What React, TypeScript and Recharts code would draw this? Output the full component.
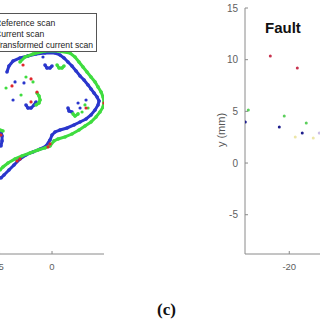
import React from 'react';
import { ScatterChart, Scatter, XAxis, YAxis, Legend } from 'recharts';

// ---------- Left panel: scan matching (m) ----------
const currentScanContour = [
  [-4.29, 4.07], [-4.1, 4.63], [-3.71, 5.09], [-3.05, 5.37], [-2.29, 5.56], [-1.52, 5.74],
  [-0.67, 5.83], [0.29, 5.83], [0.76, 5.65], [1.14, 5.37], [1.52, 5.0], [1.9, 4.63],
  [2.29, 4.17], [2.67, 3.7], [3.05, 3.33], [3.43, 2.87], [3.71, 2.5], [4.0, 2.13],
  [4.29, 1.76], [4.48, 1.39], [4.38, 1.02], [4.1, 0.56], [3.71, 0.09], [3.24, -0.28],
  [2.67, -0.56], [2.1, -0.83], [1.43, -1.11], [0.76, -1.3], [0.29, -1.48], [0.0, -1.76],
  [-0.19, -2.22], [-0.57, -2.78], [-1.14, -3.06], [-1.81, -3.33], [-2.48, -3.61],
  [-3.05, -3.98], [-3.62, -4.54], [-4.1, -5.0], [-4.57, -5.46], [-4.86, -5.74],
];
const transformedScanContour = [
  [-3.05, 5.0], [-2.57, 5.46], [-1.81, 5.74], [-0.67, 6.02], [0.57, 6.02], [1.71, 5.83],
  [2.19, 5.46], [2.57, 5.0], [2.95, 4.54], [3.33, 4.07], [3.71, 3.61], [4.1, 3.15],
  [4.38, 2.69], [4.67, 2.22], [4.86, 1.76], [4.95, 1.3], [4.86, 0.83], [4.57, 0.37],
  [4.19, -0.09], [3.71, -0.56], [3.14, -0.93], [2.57, -1.3], [1.9, -1.67], [1.24, -1.94],
  [0.57, -2.13], [0.19, -2.31], [-0.19, -2.78], [-0.67, -2.96], [-1.33, -3.15],
  [-2.1, -3.43], [-2.86, -3.7], [-3.52, -3.98], [-4.19, -4.35], [-4.67, -4.72], [-4.95, -5.0],
];
const currentScanHook = [[-2.48, 1.02], [-2.29, 0.74], [-2.0, 0.74], [-1.71, 1.02], [-1.52, 1.3]];
const transformedScanHook = [[-1.43, 2.13], [-1.24, 1.85], [-1.14, 1.48], [-1.24, 1.2], [-1.52, 1.02]];
const currentScanArc = [[-0.67, 4.72], [-0.48, 4.44], [-0.19, 4.44], [0.0, 4.63]];
const transformedScanArc = [[0.48, 4.72], [0.67, 4.44], [0.95, 4.44], [1.14, 4.63]];
const currentScanRightHook = [[1.52, 0.74], [1.62, 0.46], [1.9, 0.37]];
const transformedScanRightHook = [[2.0, 0.19], [2.19, 0.0], [2.48, 0.19]];
const currentScanEdge = [[-4.86, -1.39], [-4.76, -1.85], [-4.76, -2.31], [-4.86, -2.78]];
const transformedScanEdge = [[-4.95, -1.3], [-4.67, -1.39]];
const currentScanDots = [
  [-3.52, 3.15], [-2.67, 3.06], [-3.71, 1.48], [2.48, 1.2], [3.24, 1.48], [2.67, 0.74], [-0.86, 5.46],
];
const transformedScanDots = [
  [-2.48, 3.61], [-1.81, 3.15], [-4.38, 2.59], [-2.95, 1.94], [3.14, 1.02], [3.43, 0.74], [2.86, 0.37],
];
const referenceScanDots = [
  [-2.76, 4.72], [-2.0, 3.43], [-3.81, 2.78], [-1.43, 2.22], [-2.0, 1.3], [3.24, 0.74],
  [4.95, 1.2], [-4.86, -1.76], [-3.33, -4.17], [-3.05, -3.98], [-0.38, -2.87], [-0.19, -2.59],
];
const legendLabels = ['Reference scan', 'Current scan', 'Transformed current scan'];
const leftXTicks = [-10, -5, 0];
const leftYTicks = [-10, -5, 0, 5, 10];

// ---------- Right panel: Fault (mm) ----------
const faultReference = [[-21.84, 10.36], [-19.22, 9.2]];
const faultTransformed = [[-23.98, 5.13], [-20.49, 4.55], [-18.35, 3.87]];
const faultCurrent = [[-24.27, 3.97], [-20.97, 3.48], [-18.74, 2.9]];
const faultFaintYellow = [[-19.42, 2.52], [-17.67, 2.42]];
const faultFaintPurple = [[-17.09, 2.9]];
const rightXTicks = [-20];
const rightYTicks = [-5, 0, 5, 10, 15];

const toPts = (a: number[][]) => a.map(([x, y]) => ({ x, y }));

const BLUE = '#2a36cc';
const GREEN = '#3fdc3f';
const RED = '#e0262c';
const AXIS = '#8a8a8a';
const TICK = '#606060';
const FONT = '"Liberation Sans", Arial, sans-serif';

const dot = (r: number, fill: string) => (props: any) =>
  <circle cx={props.cx} cy={props.cy} r={r} fill={fill} />;

const colors = [RED, BLUE, GREEN];

const LegendBox = () => (
  <div style={{
    width: 132, height: 39, boxSizing: 'border-box', border: '1px solid #555',
    background: '#fff', paddingTop: 4, fontFamily: FONT, fontSize: 8.6, color: '#222',
  }}>
    {legendLabels.map((l, i) => (
      <div key={l} style={{ position: 'relative', height: 11, lineHeight: '11px', paddingLeft: 29, whiteSpace: 'nowrap' }}>
        <span style={{ position: 'absolute', left: 16, top: 4, width: 3, height: 3, borderRadius: 2, background: colors[i] }} />
        {l}
      </div>
    ))}
  </div>
);

export default function App() {
  const contour = (data: number[][], color: string, key: string) => (
    <Scatter key={key} xAxisId="b" yAxisId="l" data={toPts(data)} fill={color}
      line={{ stroke: color, strokeWidth: 3 }} lineJointType="linear"
      shape={dot(1.8, color)} isAnimationActive={false} />
  );
  const dots = (data: number[][], color: string, key: string, r = 1.6) => (
    <Scatter key={key} xAxisId="b" yAxisId="l" data={toPts(data)} fill={color}
      shape={dot(r, color)} isAnimationActive={false} />
  );
  return (
    <div style={{ position: 'fixed', left: 0, top: 0, width: 320, height: 320, overflow: 'hidden', background: '#fff' }}>
      <div style={{ position: 'absolute', left: -53, top: 0 }}>
        <ScatterChart width={162} height={284} margin={{ top: 7, right: 5, bottom: 0, left: 0 }}>
          <XAxis xAxisId="b" type="number" dataKey="x" domain={[-10, 4.95]} ticks={leftXTicks} allowDataOverflow
            orientation="bottom" height={30} tickSize={-3} tickMargin={12} stroke={AXIS} interval={0}
            tick={{ fill: TICK, fontSize: 9.5, fontFamily: FONT }} />
          <XAxis xAxisId="t" type="number" domain={[-10, 4.95]} ticks={leftXTicks} allowDataOverflow
            orientation="top" height={0} tickSize={-3} tickFormatter={() => ''} stroke={AXIS} interval={0} />
          <YAxis yAxisId="l" type="number" dataKey="y" domain={[-12.78, 10.09]} allowDataOverflow hide width={0} />
          <YAxis yAxisId="r" type="number" orientation="right" domain={[-12.78, 10.09]} ticks={leftYTicks}
            allowDataOverflow width={0} tickSize={-3} tickFormatter={() => ''} stroke={AXIS} interval={0} />
          {contour(currentScanContour, BLUE, 'b1')}
          {contour(currentScanHook, BLUE, 'b2')}
          {contour(currentScanArc, BLUE, 'b3')}
          {contour(currentScanRightHook, BLUE, 'b4')}
          {contour(currentScanEdge, BLUE, 'b5')}
          {dots(currentScanDots, BLUE, 'b6')}
          {contour(transformedScanContour, GREEN, 'g1')}
          {contour(transformedScanHook, GREEN, 'g2')}
          {contour(transformedScanArc, GREEN, 'g3')}
          {contour(transformedScanRightHook, GREEN, 'g4')}
          {contour(transformedScanEdge, GREEN, 'g5')}
          {dots(transformedScanDots, GREEN, 'g6')}
          {dots(referenceScanDots, RED, 'r1')}
          <Legend layout="vertical" align="center" verticalAlign="middle"
            wrapperStyle={{ left: 18, top: 13, width: 132, height: 39 }} content={() => <LegendBox />} />
        </ScatterChart>
      </div>

      <div style={{ position: 'absolute', left: 205, top: 0 }}>
        <ScatterChart width={130} height={284} margin={{ top: 8, right: 0, bottom: 0, left: 0 }}>
          <XAxis xAxisId="b" type="number" dataKey="x" domain={[-24.3, -15.56]} ticks={rightXTicks} allowDataOverflow
            orientation="bottom" height={30} tickSize={-3} tickMargin={12} stroke={AXIS} interval={0}
            tick={{ fill: TICK, fontSize: 9.5, fontFamily: FONT }} />
          <XAxis xAxisId="t" type="number" domain={[-24.3, -15.56]} ticks={rightXTicks} allowDataOverflow
            orientation="top" height={0} tickSize={-3} tickFormatter={() => ''} stroke={AXIS} interval={0} />
          <YAxis yAxisId="l" type="number" dataKey="y" domain={[-8.8, 15]} ticks={rightYTicks} allowDataOverflow
            width={40} tickSize={-3} tickMargin={10} stroke={AXIS} interval={0}
            tick={{ fill: TICK, fontSize: 10, fontFamily: FONT }} />
          <Scatter xAxisId="b" yAxisId="l" data={toPts(faultFaintYellow)} shape={dot(1.5, '#ece6a8')} isAnimationActive={false} />
          <Scatter xAxisId="b" yAxisId="l" data={toPts(faultFaintPurple)} shape={dot(1.5, '#c9bde6')} isAnimationActive={false} />
          <Scatter xAxisId="b" yAxisId="l" data={toPts(faultCurrent)} shape={dot(1.5, '#1e1e8c')} isAnimationActive={false} />
          <Scatter xAxisId="b" yAxisId="l" data={toPts(faultTransformed)} shape={dot(1.5, '#5ccf5c')} isAnimationActive={false} />
          <Scatter xAxisId="b" yAxisId="l" data={toPts(faultReference)} shape={dot(1.5, '#c8324e')} isAnimationActive={false} />
        </ScatterChart>
      </div>

      <svg width={320} height={320} style={{ position: 'absolute', left: 0, top: 0, pointerEvents: 'none' }}>
        <text x={265} y={32.5} fontFamily={FONT} fontWeight="bold" fontSize={15} fill="#111">Fault</text>
        <text x={225} y={130} transform="rotate(-90 225 130)" textAnchor="middle" fontFamily={FONT} fontSize={11} fill="#555">y (mm)</text>
        <text x={157} y={314.5} fontFamily='"Liberation Serif", "Times New Roman", serif' fontWeight="bold" fontSize={17} fill="#111">(c)</text>
      </svg>
    </div>
  );
}
